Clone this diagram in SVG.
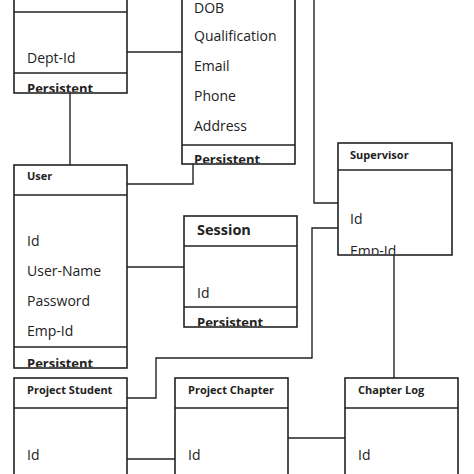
<svg xmlns="http://www.w3.org/2000/svg" width="474" height="474" viewBox="0 0 474 474">
<style>
.box{fill:#fff;stroke:#222;stroke-width:1.6}
.div{stroke:#222;stroke-width:1.4}
.con{fill:none;stroke:#222;stroke-width:1.4}
.attr{font-family:"Open Sans","Noto Sans",sans-serif;font-size:14px;fill:#222}
.hdr{font-family:"Open Sans","Noto Sans",sans-serif;font-size:11px;font-weight:bold;fill:#222}
.big{font-family:"Open Sans","Noto Sans",sans-serif;font-size:14.5px;font-weight:bold;fill:#222}
.per{font-family:"Open Sans","Noto Sans",sans-serif;font-size:13px;font-weight:bold;fill:#222}
</style>
<defs>
<clipPath id="c1"><rect x="14" y="73" width="113" height="19"/></clipPath>
<clipPath id="c2"><rect x="182" y="145" width="113" height="18"/></clipPath>
<clipPath id="c3"><rect x="14" y="347" width="113" height="20"/></clipPath>
<clipPath id="c4"><rect x="184" y="307" width="113" height="19"/></clipPath>
<clipPath id="c5"><rect x="338" y="170" width="114" height="84"/></clipPath>
</defs>
<g id="connectors">
<polyline class="con" points="127,52 182,52"/>
<polyline class="con" points="70,93 70,165"/>
<polyline class="con" points="193,164 193,184 127,184"/>
<polyline class="con" points="314,0 314,203 338,203"/>
<polyline class="con" points="338,228 312,228 312,358 156,358 156,398 127,398"/>
<polyline class="con" points="127,267 184,267"/>
<polyline class="con" points="394,255 394,378"/>
<polyline class="con" points="127,459 175,459"/>
<polyline class="con" points="288,438 345,438"/>
</g>
<g id="department">
<rect class="box" x="14" y="-5" width="113" height="98"/>
<line class="div" x1="14" y1="12" x2="127" y2="12"/>
<line class="div" x1="14" y1="73" x2="127" y2="73"/>
<text class="attr" x="27" y="63">Dept-Id</text>
<text class="per" x="27" y="92.5" clip-path="url(#c1)">Persistent</text>
</g>
<g id="employee">
<rect class="box" x="182" y="-5" width="113" height="169"/>
<line class="div" x1="182" y1="145" x2="295" y2="145"/>
<text class="attr" x="194" y="12.5">DOB</text>
<text class="attr" x="194" y="41">Qualification</text>
<text class="attr" x="194" y="71">Email</text>
<text class="attr" x="194" y="101">Phone</text>
<text class="attr" x="194" y="131">Address</text>
<text class="per" x="194" y="163.5" clip-path="url(#c2)">Persistent</text>
</g>
<g id="user">
<rect class="box" x="14" y="165" width="113" height="203"/>
<line class="div" x1="14" y1="195" x2="127" y2="195"/>
<line class="div" x1="14" y1="347" x2="127" y2="347"/>
<text class="hdr" x="27" y="180">User</text>
<text class="attr" x="27" y="246">Id</text>
<text class="attr" x="27" y="276">User-Name</text>
<text class="attr" x="27" y="306">Password</text>
<text class="attr" x="27" y="336">Emp-Id</text>
<text class="per" x="27" y="367.5" clip-path="url(#c3)">Persistent</text>
</g>
<g id="session">
<rect class="box" x="184" y="216" width="113" height="111"/>
<line class="div" x1="184" y1="246" x2="297" y2="246"/>
<line class="div" x1="184" y1="307" x2="297" y2="307"/>
<text class="big" x="197" y="235">Session</text>
<text class="attr" x="197" y="298">Id</text>
<text class="per" x="197" y="326.5" clip-path="url(#c4)">Persistent</text>
</g>
<g id="supervisor">
<rect class="box" x="338" y="143" width="114" height="112"/>
<line class="div" x1="338" y1="170" x2="452" y2="170"/>
<text class="hdr" x="350" y="159">Supervisor</text>
<text class="attr" x="350" y="224">Id</text>
<text class="attr" x="350" y="256" clip-path="url(#c5)">Emp-Id</text>
</g>
<g id="project-student">
<rect class="box" x="14" y="378" width="113" height="110"/>
<line class="div" x1="14" y1="408" x2="127" y2="408"/>
<text class="hdr" x="27" y="394">Project Student</text>
<text class="attr" x="27" y="460">Id</text>
</g>
<g id="project-chapter">
<rect class="box" x="175" y="378" width="113" height="110"/>
<line class="div" x1="175" y1="408" x2="288" y2="408"/>
<text class="hdr" x="188" y="394">Project Chapter</text>
<text class="attr" x="188" y="460">Id</text>
</g>
<g id="chapter-log">
<rect class="box" x="345" y="378" width="113" height="110"/>
<line class="div" x1="345" y1="408" x2="458" y2="408"/>
<text class="hdr" x="358" y="394">Chapter Log</text>
<text class="attr" x="358" y="460">Id</text>
</g>
</svg>
